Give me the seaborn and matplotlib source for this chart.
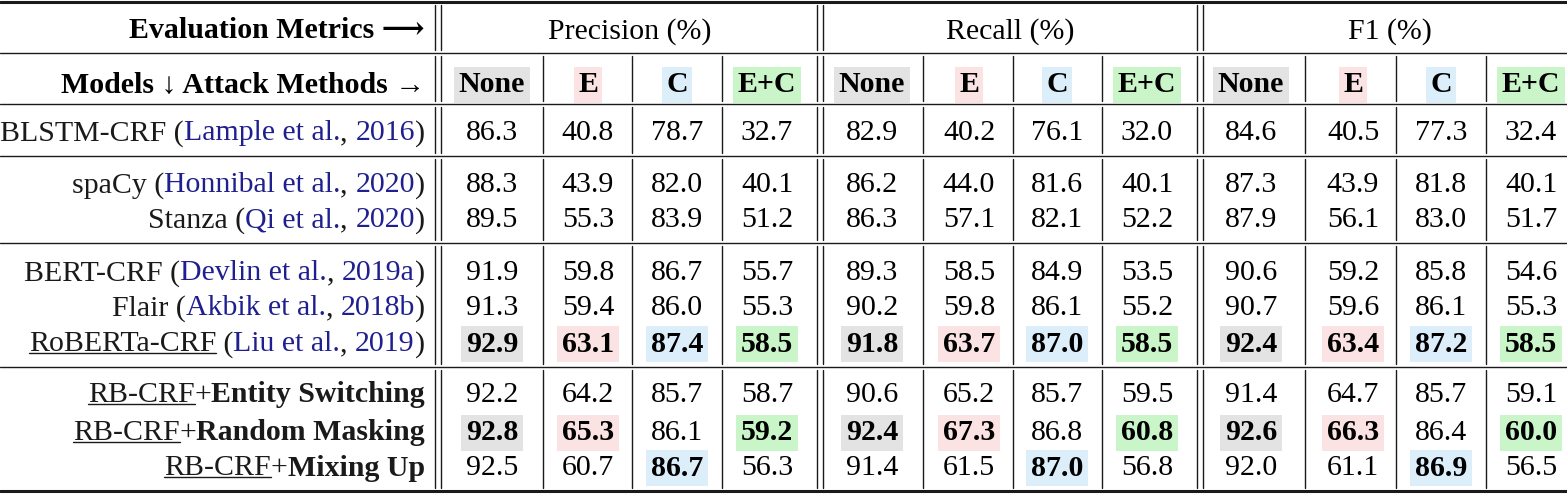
import matplotlib.pyplot as plt
import seaborn as sns

sns.set_theme(style="white")
plt.rcParams["font.family"] = ["Liberation Serif", "DejaVu Serif"]
plt.rcParams["text.color"] = "black"

attacks = ["None", "E", "C", "E+C"]
metrics = ["Precision (%)", "Recall (%)", "F1 (%)"]

# each row: precision (None, E, C, E+C), recall, f1
blstm = [86.3, 40.8, 78.7, 32.7, 82.9, 40.2, 76.1, 32.0, 84.6, 40.5, 77.3, 32.4]
spacy = [88.3, 43.9, 82.0, 40.1, 86.2, 44.0, 81.6, 40.1, 87.3, 43.9, 81.8, 40.1]
stanza = [89.5, 55.3, 83.9, 51.2, 86.3, 57.1, 82.1, 52.2, 87.9, 56.1, 83.0, 51.7]
bert = [91.9, 59.8, 86.7, 55.7, 89.3, 58.5, 84.9, 53.5, 90.6, 59.2, 85.8, 54.6]
flair = [91.3, 59.4, 86.0, 55.3, 90.2, 59.8, 86.1, 55.2, 90.7, 59.6, 86.1, 55.3]
roberta = [92.9, 63.1, 87.4, 58.5, 91.8, 63.7, 87.0, 58.5, 92.4, 63.4, 87.2, 58.5]
rb_switch = [92.2, 64.2, 85.7, 58.7, 90.6, 65.2, 85.7, 59.5, 91.4, 64.7, 85.7, 59.1]
rb_mask = [92.8, 65.3, 86.1, 59.2, 92.4, 67.3, 86.8, 60.8, 92.6, 66.3, 86.4, 60.0]
rb_mix = [92.5, 60.7, 86.7, 56.3, 91.4, 61.5, 87.0, 56.8, 92.0, 61.1, 86.9, 56.5]

# which cells are bold + highlighted
hl_all = [True] * 12
hl_mask = [True, True, False, True] * 3
hl_mix = [False, False, True, False] * 3

BLUE = "#1f1f8f"
row_labels = [
    [("BLSTM-CRF (", "normal", "k", False), ("Lample et al.", "normal", BLUE, False), (", ", "normal", "k", False), ("2016", "normal", BLUE, False), (")", "normal", "k", False)],
    [("spaCy (", "normal", "k", False), ("Honnibal et al.", "normal", BLUE, False), (", ", "normal", "k", False), ("2020", "normal", BLUE, False), (")", "normal", "k", False)],
    [("Stanza (", "normal", "k", False), ("Qi et al.", "normal", BLUE, False), (", ", "normal", "k", False), ("2020", "normal", BLUE, False), (")", "normal", "k", False)],
    [("BERT-CRF (", "normal", "k", False), ("Devlin et al.", "normal", BLUE, False), (", ", "normal", "k", False), ("2019a", "normal", BLUE, False), (")", "normal", "k", False)],
    [("Flair (", "normal", "k", False), ("Akbik et al.", "normal", BLUE, False), (", ", "normal", "k", False), ("2018b", "normal", BLUE, False), (")", "normal", "k", False)],
    [("RoBERTa-CRF", "normal", "k", True), (" (", "normal", "k", False), ("Liu et al.", "normal", BLUE, False), (", ", "normal", "k", False), ("2019", "normal", BLUE, False), (")", "normal", "k", False)],
    [("RB-CRF", "normal", "k", True), ("+", "normal", "k", False), ("Entity Switching", "bold", "k", False)],
    [("RB-CRF", "normal", "k", True), ("+", "normal", "k", False), ("Random Masking", "bold", "k", False)],
    [("RB-CRF", "normal", "k", True), ("+", "normal", "k", False), ("Mixing Up", "bold", "k", False)],
]
rows = [blstm, spacy, stanza, bert, flair, roberta, rb_switch, rb_mask, rb_mix]
highlights = [None, None, None, None, None, hl_all, None, hl_mask, hl_mix]
row_y = [130, 182, 217, 270, 305, 341, 392, 430, 465]

col_x = [492, 588, 677, 767, 872, 969, 1057, 1147, 1251, 1353, 1441, 1531]
group_x = [630, 1010, 1390]
fills = ["#e3e3e3", "#fbe3e3", "#ddeefb", "#c9f5c9"]
FS = 21.5

fig = plt.figure(figsize=(15.67, 4.95), dpi=100)
ax = fig.add_axes([0, 0, 1, 1])
ax.set_xlim(0, 1567)
ax.set_ylim(495, 0)
ax.axis("off")
renderer = fig.canvas.get_renderer()


def rich_right(x_right, y, segs):
    # draw text segments so that the last ends at x_right
    widths = []
    for s, w, c, u in segs:
        t = ax.text(0, y, s, fontsize=FS, fontweight=w)
        widths.append(t.get_window_extent(renderer).width)
        t.remove()
    x = x_right - sum(widths)
    for (s, w, c, u), wd in zip(segs, widths):
        ax.text(x, y, s, fontsize=FS, fontweight=w, color=c, va="center_baseline", ha="left")
        if u:
            ax.plot([x, x + wd], [y + 12, y + 12], color="k", lw=1)
        x += wd


# horizontal rules
for y, lw in [(2, 2.2), (53, 1.0), (104, 1.0), (156, 1.0), (243, 1.0), (367, 1.0), (491, 2.2)]:
    ax.plot([0, 1567], [y, y], color="k", lw=lw)

# vertical rules per band
bands = [(5, 50), (56, 101), (107, 153), (159, 240), (246, 364), (370, 488)]
for i, (y0, y1) in enumerate(bands):
    for xd in [435, 441, 817, 823, 1197, 1203]:
        ax.plot([xd, xd], [y0, y1], color="k", lw=1)
    if i > 0:
        for xs in [543, 632, 722, 923, 1013, 1102, 1305, 1396, 1486]:
            ax.plot([xs, xs], [y0, y1], color="k", lw=1)

# headers
ax.text(425, 28, "Evaluation Metrics \u27f6", fontsize=FS, fontweight="bold", ha="right", va="center_baseline")
ax.text(425, 82, "Models \u2193 Attack Methods \u2192", fontsize=FS, fontweight="bold", ha="right", va="center_baseline")
for gx, m in zip(group_x, metrics):
    ax.text(gx, 28, m, fontsize=FS, ha="center", va="center_baseline")
for i, cx in enumerate(col_x):
    ax.text(cx, 82, attacks[i % 4], fontsize=FS, fontweight="bold", ha="center", va="center_baseline",
            bbox=dict(boxstyle="square,pad=0.15", fc=fills[i % 4], ec="none"))

# body
for vals, hl, y, segs in zip(rows, highlights, row_y, row_labels):
    rich_right(425, y, segs)
    for i, (cx, v) in enumerate(zip(col_x, vals)):
        if hl is not None and hl[i]:
            ax.text(cx, y, f"{v:.1f}", fontsize=FS, fontweight="bold", ha="center", va="center_baseline",
                    bbox=dict(boxstyle="square,pad=0.15", fc=fills[i % 4], ec="none"))
        else:
            ax.text(cx, y, f"{v:.1f}", fontsize=FS, ha="center", va="center_baseline")

fig.savefig("out.png", dpi=100)
